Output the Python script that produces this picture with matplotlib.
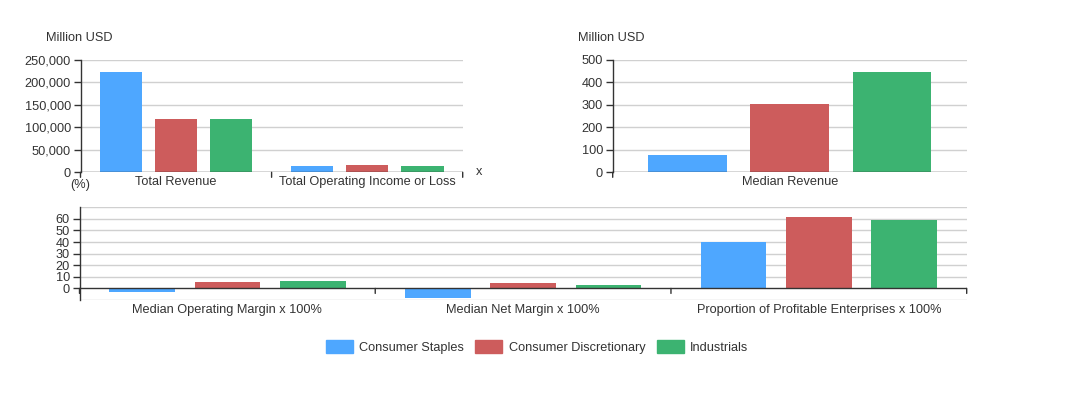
import matplotlib
matplotlib.use("Agg")
import matplotlib.pyplot as plt
from matplotlib.patches import Patch
import matplotlib.transforms as mtransforms
import numpy as np

plt.rcParams['font.family'] = ['Liberation Sans', 'DejaVu Sans']

series = ["Consumer Staples", "Consumer Discretionary", "Industrials"]
colors = ["#4ea7ff", "#cd5c5c", "#3cb371"]

cats_tl = ["Total Revenue", "Total Operating Income or Loss"]
vals_tl = [[223000, 14000], [119000, 15500], [118500, 13400]]

cats_tr = ["Median Revenue"]
vals_tr = [[77], [302], [448]]

cats_b = ["Median Operating Margin x 100%", "Median Net Margin x 100%",
          "Proportion of Profitable Enterprises x 100%"]
vals_b = [[-3.3, -8.7, 40], [5.2, 4.6, 61.6], [6.3, 2.9, 59.1]]

W, H = 1074, 400
fig = plt.figure(figsize=(W / 100, H / 100), dpi=100)

TXT = "#333333"
GRID = "#d0d0d0"
AX = "#333333"
FS = 9.2


def add_ax(l, t, r, b):
    return fig.add_axes([l / W, 1 - b / H, (r - l) / W, (b - t) / H])


def draw_bars(ax, cats, vals):
    n = len(cats)
    x = np.arange(n)
    w = 0.2222
    gap = 0.0667
    for j, (v, c) in enumerate(zip(vals, colors)):
        ax.bar(x + (j - 1) * (w + gap), v, width=w, color=c, zorder=3)
    ax.set_xlim(-0.5, n - 0.5)
    for s in ["top", "right", "bottom"]:
        ax.spines[s].set_visible(False)
    ax.spines["left"].set_color(AX)
    ax.spines["left"].set_linewidth(1)
    ax.set_xticks([])
    ax.tick_params(axis="y", length=5, width=1, color=AX, labelcolor=TXT,
                   labelsize=FS, pad=2)
    return x


def cat_axis(ax, n, y0, skip_last=False):
    ax.axhline(y0, color=AX, lw=1, zorder=4)
    bounds = list(np.arange(n + 1) - 0.5)
    if skip_last:
        bounds = bounds[:-1]
    for b in bounds:
        ax.annotate("", xy=(b, y0), xycoords="data", xytext=(0, -5),
                    textcoords="offset pixels",
                    arrowprops=dict(arrowstyle="-", color=AX, lw=1,
                                    shrinkA=0, shrinkB=0),
                    annotation_clip=False)


# ---------- top-left ----------
ax1 = add_ax(80.5, 60, 462.7, 172.3)
draw_bars(ax1, cats_tl, vals_tl)
ax1.set_ylim(0, 250000)
yt = np.arange(0, 250001, 50000)
ax1.set_yticks(yt)
ax1.set_yticklabels([f"{v:,}" for v in yt])
for v in yt[1:]:
    ax1.axhline(v, color=GRID, lw=1, zorder=1)
cat_axis(ax1, len(cats_tl), 0)
for i, c in enumerate(cats_tl):
    ax1.annotate(c, xy=(i, 0), xycoords="data", xytext=(0, -9.5),
                 textcoords="offset pixels", ha="center", va="center",
                 fontsize=FS, color=TXT, annotation_clip=False)
fig.text(46 / W, 1 - 38 / H, "Million USD", fontsize=FS, color=TXT,
         ha="left", va="center")
fig.text(479 / W, 1 - 172 / H, "x", fontsize=FS, color=TXT,
         ha="center", va="center")
fig.text(80 / W, 1 - 185 / H, "(%)", fontsize=FS, color=TXT,
         ha="center", va="center")

# ---------- top-right ----------
ax2 = add_ax(612.7, 60, 966.7, 172.3)
draw_bars(ax2, cats_tr, vals_tr)
ax2.set_ylim(0, 500)
yt2 = np.arange(0, 501, 100)
ax2.set_yticks(yt2)
ax2.set_yticklabels([str(v) for v in yt2])
for v in yt2[1:]:
    ax2.axhline(v, color=GRID, lw=1, zorder=1)
cat_axis(ax2, len(cats_tr), 0, skip_last=True)
for i, c in enumerate(cats_tr):
    ax2.annotate(c, xy=(i, 0), xycoords="data", xytext=(0, -9.5),
                 textcoords="offset pixels", ha="center", va="center",
                 fontsize=FS, color=TXT, annotation_clip=False)
fig.text(578 / W, 1 - 38 / H, "Million USD", fontsize=FS, color=TXT,
         ha="left", va="center")

# ---------- bottom ----------
ax3 = add_ax(79.5, 207.3, 966.7, 300)
draw_bars(ax3, cats_b, vals_b)
ax3.set_ylim(-10, 70)
yt3 = np.arange(0, 61, 10)
ax3.set_yticks(yt3)
ax3.set_yticklabels([str(v) for v in yt3])
for v in np.arange(-10, 71, 10):
    if v != 0:
        ax3.axhline(v, color=GRID, lw=1, zorder=1)
cat_axis(ax3, len(cats_b), 0)
trb = mtransforms.blended_transform_factory(ax3.transData, ax3.transAxes)
for i, c in enumerate(cats_b):
    ax3.annotate(c, xy=(i, 0), xycoords=trb, xytext=(0, -9.5),
                 textcoords="offset pixels", ha="center", va="center",
                 fontsize=FS, color=TXT, annotation_clip=False)

# ---------- legend ----------
handles = [Patch(facecolor=c, edgecolor=c, label=s) for s, c in zip(series, colors)]
fig.legend(handles=handles, loc="center", bbox_to_anchor=(537 / W, 1 - 347 / H),
           ncol=3, frameon=False, fontsize=FS, handlelength=2.1,
           handleheight=1.1, handletextpad=0.5, columnspacing=0.9,
           labelcolor=TXT)

fig.savefig("out.png", dpi=100, facecolor="white")
